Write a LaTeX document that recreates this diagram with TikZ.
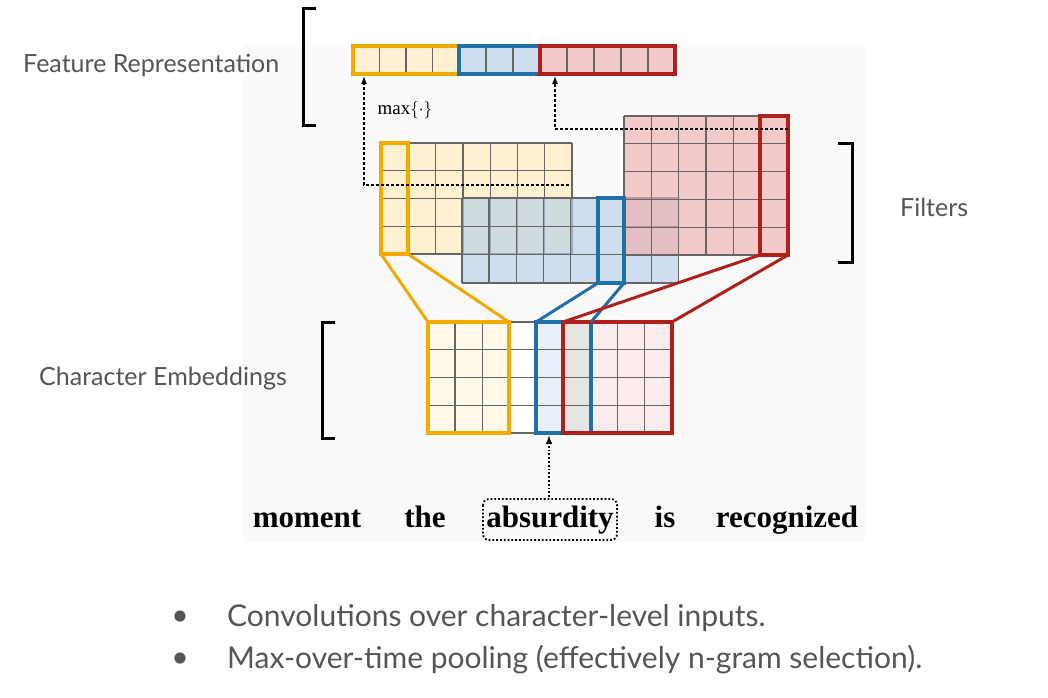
\documentclass[tikz,border=0pt]{standalone}
\usepackage{fontspec}
\setmainfont{Lato}
\newfontfamily\wordfont{Liberation Serif}
\usetikzlibrary{arrows.meta}
\definecolor{yb}{HTML}{F2A900}\definecolor{yf}{HTML}{FFEDB8}
\definecolor{bb}{HTML}{1F70A8}\definecolor{bf}{HTML}{B8D0EA}
\definecolor{rb}{HTML}{B0201A}\definecolor{rf}{HTML}{F0B0B0}
\definecolor{txt}{HTML}{555555}
\newcommand\mygrid[7]{% x y cols rows cw ch color
  \fill[#7,fill opacity=0.65] (#1,#2) rectangle ++(#3*#5,#4*#6);
  \foreach \i in {0,...,#3}{\draw[gridl] (#1+\i*#5,#2) -- ++(0,#4*#6);}
  \foreach \j in {0,...,#4}{\draw[gridl] (#1,#2+\j*#6) -- ++(#3*#5,0);}}
\begin{document}
\begin{tikzpicture}[x=1pt,y=-1pt,
  gridl/.style={draw=black!60,line width=1.3pt},
  hl/.style={line width=3.5pt},
  conn/.style={line width=3pt},
  lab/.style={text=txt,font=\fontsize{25}{30}\selectfont,inner sep=0},
  blt/.style={text=txt,font=\fontsize{30}{36}\selectfont,inner sep=0},
  brk/.style={line width=3pt},
  maxarrow/.style={densely dashed,line width=1.2pt,-{Latex[length=8pt]}},
  word/.style={font=\wordfont\bfseries\fontsize{31}{36}\selectfont,inner sep=0,anchor=base}]
\useasboundingbox (0,0) rectangle (1048,697);
\fill[black!2] (243,45) rectangle (865,542);
% feature representation
\mygrid{353}{46}{4}{1}{26.5}{28}{yf}
\mygrid{459}{46}{3}{1}{27}{28}{bf}
\mygrid{540}{46}{5}{1}{27}{28}{rf}
\draw[yb,hl] (353,46) rectangle (459,74);
\draw[bb,hl] (459,46) rectangle (540,74);
\draw[rb,hl] (540,46) rectangle (675,74);
% filters
\mygrid{381}{143}{7}{4}{27.3}{27.75}{yf}
\mygrid{462}{198}{8}{3}{27.1}{28.3}{bf}
\mygrid{624}{116}{6}{5}{27.3}{27.8}{rf}
\draw[yb,hl] (381,143) rectangle (408,254);
\draw[bb,hl] (598,198) rectangle (624,283);
\draw[rb,hl] (760,116) rectangle (788,255);
% dashed max arrows
\coordinate (ya) at (569,185); \coordinate (yt) at (364,76);
\coordinate (ra) at (788,129); \coordinate (rt) at (555,76);
\draw[maxarrow] (ya) -- (364,185) -- (yt);
\draw[maxarrow] (ra) -- (555,129) -- (rt);
\node[inner sep=0,font=\wordfont\fontsize{19}{22}\selectfont] (mx) at (405,110) {max$\{\cdot\}$};
% embeddings
\fill[white] (509,322) rectangle (536,433);
\fill[yf,fill opacity=0.9] (428,322) rectangle (509,433);
\fill[bf,fill opacity=0.9] (536,322) rectangle (563,433);
\fill[rf,fill opacity=0.6] (591,322) rectangle (672,433);
\fill[black!35,fill opacity=0.8] (563,322) rectangle (591,433);
\mygrid{428}{322}{9}{4}{27.1}{27.75}{white,fill opacity=0}
\draw[yb,hl] (428,322) rectangle (509,433);
\draw[bb,hl] (536,322) rectangle (591,433);
\draw[rb,hl] (563,322) rectangle (672,433);
% connectors
\draw[yb,conn] (381,254) -- (428,322) (408,254) -- (509,322);
\draw[bb,conn] (598,283) -- (536,322) (624,283) -- (591,322);
\draw[rb,conn] (760,255) -- (563,322) (788,255) -- (672,322);
% words
\node[word] (w1) at (307,527) {moment};
\node[word] (w2) at (425,527) {the};
\node[word] (w3) at (550,527) {absurdity};
\node[word] (w4) at (665,527) {is};
\node[word] (w5) at (787,527) {recognized};
\draw[dotted,line width=1.8pt,rounded corners=6pt] (483,499) rectangle (617,540);
\coordinate (ae) at (549,435);
\draw[dotted,line width=1.8pt,-{Latex[length=9pt]}] (549,497) -- (ae);
% brackets & labels
\draw[brk] (316,8) -- (303,8) -- (303,125) -- (316,125);
\draw[brk] (838,143) -- (852,143) -- (852,262) -- (838,262);
\draw[brk] (335,322) -- (322,322) -- (322,438) -- (335,438);
\node[lab,anchor=west] (l1) at (23,65) {Feature Representation};
\node[lab,anchor=west] (l2) at (900,207) {Filters};
\node[lab,anchor=west] (l3) at (39,379) {Character Embeddings};
% bullets
\node[blt,anchor=west] (b1) at (227,618) {Convolutions over character-level inputs.};
\node[blt,anchor=west] (b2) at (227,660) {Max-over-time pooling (effectively n-gram selection).};
\node[blt] at (180,618) {•};
\node[blt] at (180,660) {•};
\end{tikzpicture}
\end{document}
